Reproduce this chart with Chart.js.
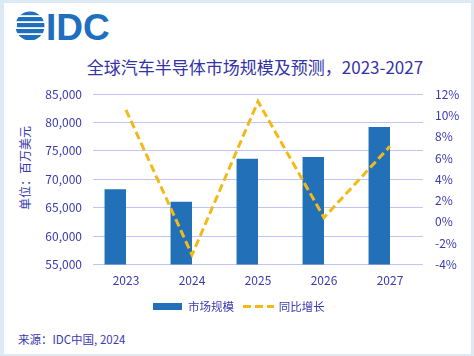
<!DOCTYPE html>
<html>
<head>
<meta charset="utf-8">
<script src="https://cdn.jsdelivr.net/npm/chart.js@4"></script>
<style>
  html,body{margin:0;padding:0;}
  body{width:474px;height:356px;background:#DCEAF6;position:relative;overflow:hidden;font-family:"Noto Sans CJK SC","Noto Sans",sans-serif;}
  #panel{position:absolute;left:4px;top:3px;width:467px;height:351px;background:#fff;}
  #wrap{position:absolute;left:0;top:0;width:474px;height:356px;}
  #logo{position:absolute;left:14px;top:10px;}
  #title{position:absolute;left:0;width:474px;top:56px;text-align:center;padding-left:36px;box-sizing:border-box;font-size:17px;color:#3333A8;line-height:22px;white-space:nowrap;}
  #ytitle{position:absolute;left:-25px;top:160px;width:100px;height:16px;line-height:16px;text-align:center;transform:rotate(-90deg);transform-origin:50% 50%;font-size:12px;color:#3A3AAE;white-space:nowrap;}
  #source{position:absolute;left:18px;top:331px;font-size:11.5px;color:#3A3AAE;white-space:nowrap;line-height:16px;}
</style>
</head>
<body>
<div id="panel"></div>
<div id="logo">
  <svg width="100" height="32" viewBox="0 0 100 32">
    <defs><clipPath id="c"><circle cx="16" cy="16" r="14.5"/></clipPath></defs>
    <g clip-path="url(#c)" fill="#1F6FBF">
      <rect x="0" y="1" width="32" height="4.2"/>
      <rect x="0" y="7" width="32" height="4.2"/>
      <rect x="3" y="13" width="29" height="4.2"/>
      <rect x="0" y="19" width="32" height="4.2"/>
      <rect x="0" y="25" width="32" height="5"/>
    </g>
    <text x="32" y="30" font-family="Liberation Sans, Arial, sans-serif" font-weight="bold" font-size="37" fill="#1F6FBF">IDC</text>
  </svg>
</div>
<div id="title">全球汽车半导体市场规模及预测，2023-2027</div>
<div id="ytitle">单位：百万美元</div>
<div id="source">来源：IDC中国, 2024</div>
<div id="wrap"><canvas id="chart" width="474" height="356"></canvas></div>
<script>
const categories = ["2023", "2024", "2025", "2026", "2027"];
const marketSize = [68250, 66050, 73600, 73900, 79200];
const yoyGrowth = [10.5, -3.1, 11.3, 0.4, 7.1];
const leftTicks = [55000, 60000, 65000, 70000, 75000, 80000, 85000];
const rightTicks = [-4, -2, 0, 2, 4, 6, 8, 10, 12];
const seriesNames = ["市场规模", "同比增长"];

const BLUE = "#2271B8";
const YELLOW = "#F2BA18";
const TEXT = "#3A3AAE";
const GRID = "#C4C4F0";
const FONT = '"Noto Sans CJK SC", "Noto Sans", sans-serif';

function makeMarker(w, h, draw) {
  const c = document.createElement("canvas");
  c.width = w; c.height = h;
  draw(c.getContext("2d"));
  return c;
}
const barMarker = makeMarker(29, 7, g => { g.fillStyle = BLUE; g.fillRect(0, 0, 29, 7); });
const lineMarker = makeMarker(31, 3, g => {
  g.fillStyle = YELLOW;
  g.fillRect(0, 0, 8, 3); g.fillRect(12, 0, 8, 3); g.fillRect(24, 0, 7, 3);
});

new Chart(document.getElementById("chart"), {
  data: {
    labels: categories,
    datasets: [
      { type: "bar", label: seriesNames[0], data: marketSize, backgroundColor: BLUE, yAxisID: "y", order: 1,
        categoryPercentage: 0.65, barPercentage: 1.0 },
      { type: "bar", label: "_pad", data: categories.map(() => null), backgroundColor: "rgba(0,0,0,0)", yAxisID: "y", order: 1,
        categoryPercentage: 0.65, barPercentage: 1.0 },
      { type: "line", label: seriesNames[1], data: yoyGrowth, borderColor: YELLOW, borderWidth: 3, borderDash: [8, 4],
        pointRadius: 0, fill: false, tension: 0, yAxisID: "y1", order: 0 }
    ]
  },
  options: {
    responsive: false,
    animation: false,
    layout: { padding: { left: 4, right: 0, top: 94, bottom: 34 } },
    plugins: {
      tooltip: { enabled: false },
      legend: {
        position: "bottom",
        labels: {
          font: { family: FONT, size: 11.5 },
          color: TEXT,
          usePointStyle: true,
          pointStyleWidth: 29,
          padding: 10,
          filter: item => item.text !== "_pad",
          generateLabels: chart => [
            { text: seriesNames[0], pointStyle: barMarker, fillStyle: BLUE, strokeStyle: BLUE, lineWidth: 0, fontColor: TEXT, datasetIndex: 0, hidden: false },
            { text: seriesNames[1], pointStyle: lineMarker, fillStyle: YELLOW, strokeStyle: YELLOW, lineWidth: 0, fontColor: TEXT, datasetIndex: 2, hidden: false }
          ]
        }
      }
    },
    scales: {
      x: {
        grid: { display: false, drawTicks: false },
        border: { display: false },
        ticks: { color: TEXT, font: { family: FONT, size: 12 }, padding: 9 },
        afterFit: s => { s.height = 26; }
      },
      y: {
        position: "left",
        min: 55000, max: 85000,
        afterBuildTicks: s => { s.ticks = leftTicks.map(v => ({ value: v })); },
        grid: { color: GRID, lineWidth: 1, drawTicks: false },
        border: { display: false },
        ticks: { color: TEXT, font: { family: FONT, size: 12 }, padding: 11,
          callback: v => v.toLocaleString("en-US") },
        afterFit: s => { s.width = 89; }
      },
      y1: {
        position: "right",
        min: -4, max: 12,
        afterBuildTicks: s => { s.ticks = rightTicks.map(v => ({ value: v })); },
        grid: { display: false, drawTicks: false },
        border: { display: false },
        ticks: { color: TEXT, font: { family: FONT, size: 12 }, padding: 12,
          callback: v => v + "%" },
        afterFit: s => { s.width = 51; }
      }
    }
  }
});
</script>
</body>
</html>
